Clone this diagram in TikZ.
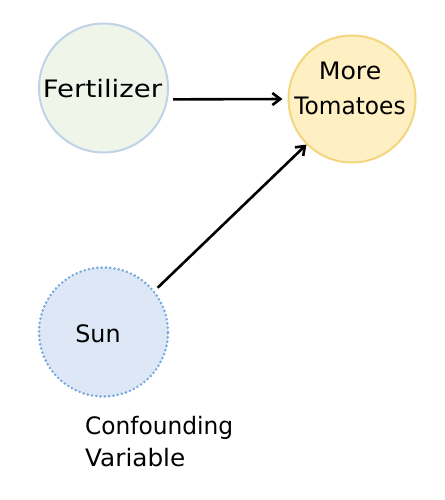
\documentclass[tikz,border=0pt]{standalone}
\usepackage{fontspec}
\setmainfont{DejaVu Sans}
\usetikzlibrary{arrows.meta}
\definecolor{fertfill}{HTML}{EFF5E8}
\definecolor{fertdraw}{HTML}{BFD2E8}
\definecolor{tomfill}{HTML}{FEF0C2}
\definecolor{tomdraw}{HTML}{F3D67E}
\definecolor{sunfill}{HTML}{DEE7F5}
\definecolor{sundraw}{HTML}{72AADF}
\newcommand{\sxx}[2]{\scalebox{#1}[1]{#2}}
\begin{document}
\begin{tikzpicture}[x=1pt,y=-1pt,
 bubble/.style={circle, minimum size=129pt, inner sep=0pt, line width=2pt},
 lbl/.style={font=\fontsize{24}{35}\selectfont, inner sep=0pt, text=black},
 arr/.style={line width=2.6pt, -{Straight Barb[length=8pt,width=12pt]}}]
\useasboundingbox (0,0) rectangle (444,500);
\fill[white] (0,0) rectangle (444,500);
\node[bubble, fill=fertfill, draw=fertdraw] (fert) at (103.5,88) {};
\node[bubble, fill=tomfill, draw=tomdraw, minimum size=127pt] (tom) at (352,99) {};
\node[bubble, fill=sunfill, draw=sundraw, dash pattern=on 0pt off 4.3pt, line cap=round, line width=2.8pt] (sun) at (103.5,332) {};
\node[lbl, anchor=base] (fertT) at (102.5,98) {\sxx{1.15}{Fertilizer}};
\node[lbl, align=center] (tomT) at (350,88) {\sxx{1.05}{More}\\\sxx{0.97}{Tomatoes}};
\node[lbl, anchor=base] (sunT) at (98,342) {\sxx{0.99}{Sun}};
\node[lbl, align=left, anchor=west, font=\fontsize{24}{32}\selectfont] (conf) at (85,442) {\sxx{0.97}{Confounding}\\\sxx{1.03}{Variable}};
\draw[arr, shorten <=5pt, shorten >=5pt] (fert.-10) -- (tom.west);
\draw[arr, shorten <=4pt] (sun.39) -- (tom.225);
\end{tikzpicture}
\end{document}
